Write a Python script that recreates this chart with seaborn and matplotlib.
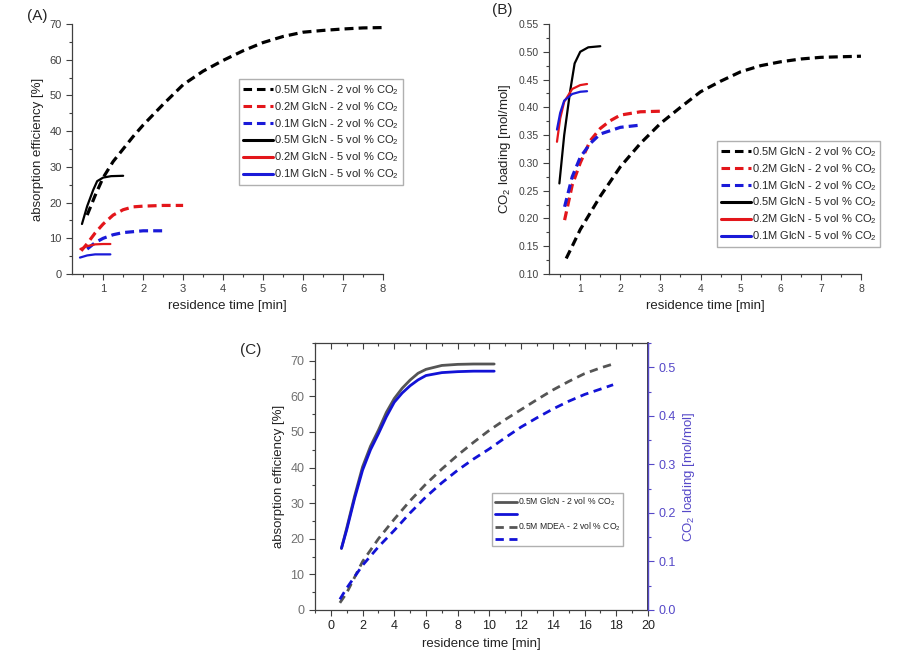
import numpy as np
import pandas as pd
import matplotlib.pyplot as plt
import seaborn as sns
from matplotlib.ticker import MultipleLocator, FormatStrFormatter
from matplotlib.lines import Line2D

# ---- panel A : absorption efficiency [%] vs residence time [min]
a_t_05_2 = [0.6, 0.8, 1.0, 1.25, 1.5, 1.75, 2.0, 2.5, 3.0, 3.5, 4.0, 4.5, 5.0, 5.5, 6.0, 6.5, 7.0, 7.5, 8.0]
a_y_05_2 = [16.5, 22, 27, 31.5, 35, 38.5, 41.7, 47.5, 53, 56.8, 59.8, 62.5, 64.8, 66.5, 67.7, 68.2, 68.6, 68.9, 69.0]
a_t_02_2 = [0.45, 0.6, 0.8, 1.0, 1.25, 1.5, 1.75, 2.0, 2.5, 3.0]
a_y_02_2 = [6.5, 8.5, 11.5, 14, 16.5, 18, 18.8, 19.0, 19.2, 19.2]
a_t_01_2 = [0.6, 0.8, 1.0, 1.25, 1.5, 2.0, 2.5]
a_y_01_2 = [7.0, 8.8, 10.0, 11.0, 11.6, 12.1, 12.1]
a_t_05_5 = [0.47, 0.6, 0.75, 0.85, 1.0, 1.2, 1.5]
a_y_05_5 = [14, 19, 23.5, 26, 27, 27.4, 27.5]
a_t_02_5 = [0.43, 0.6, 0.8, 1.0, 1.18]
a_y_02_5 = [7.0, 7.8, 8.3, 8.4, 8.4]
a_t_01_5 = [0.42, 0.6, 0.8, 1.0, 1.18]
a_y_01_5 = [4.6, 5.2, 5.5, 5.5, 5.5]

# ---- panel B : CO2 loading [mol/mol]
b_t_05_2 = [0.65, 0.8, 1.0, 1.25, 1.5, 2.0, 2.5, 3.0, 3.5, 4.0, 4.5, 5.0, 5.5, 6.0, 6.5, 7.0, 7.5, 8.0]
b_y_05_2 = [0.128, 0.15, 0.18, 0.21, 0.24, 0.293, 0.335, 0.371, 0.40, 0.428, 0.447, 0.464, 0.475, 0.482, 0.487, 0.490, 0.491, 0.492]
b_t_02_2 = [0.61, 0.8, 1.0, 1.25, 1.5, 1.75, 2.0, 2.5, 3.0]
b_y_02_2 = [0.197, 0.26, 0.30, 0.34, 0.362, 0.376, 0.386, 0.392, 0.393]
b_t_01_2 = [0.61, 0.8, 1.0, 1.25, 1.5, 2.0, 2.5]
b_y_01_2 = [0.221, 0.275, 0.31, 0.335, 0.352, 0.364, 0.368]
b_t_05_5 = [0.48, 0.6, 0.75, 0.86, 1.0, 1.2, 1.5]
b_y_05_5 = [0.263, 0.35, 0.43, 0.479, 0.500, 0.508, 0.510]
b_t_02_5 = [0.42, 0.5, 0.6, 0.8, 1.0, 1.17]
b_y_02_5 = [0.338, 0.38, 0.41, 0.433, 0.44, 0.442]
b_t_01_5 = [0.42, 0.5, 0.6, 0.8, 1.0, 1.17]
b_y_01_5 = [0.36, 0.39, 0.412, 0.424, 0.428, 0.429]

# ---- panel C : 0.5M GlcN vs 0.5M MDEA (2 vol % CO2)
c_t_glcn = [0.67, 1.0, 1.5, 2.0, 2.5, 3.0, 3.5, 4.0, 4.5, 5.0, 5.5, 6.0, 7.0, 8.0, 9.0, 10.3]
c_eff_glcn = [17.3, 23, 32, 40.2, 46, 50.5, 55.5, 59.4, 62.3, 64.6, 66.5, 67.6, 68.7, 69.0, 69.1, 69.1]
c_load_glcn = [0.127, 0.165, 0.23, 0.288, 0.33, 0.363, 0.398, 0.428, 0.447, 0.462, 0.474, 0.483, 0.489, 0.491, 0.492, 0.492]
c_t_mdea = [0.57, 1, 2, 3, 4, 5, 6, 7, 8, 9, 10, 11, 12, 13, 14, 15, 16, 17, 17.8]
c_eff_mdea = [2.0, 4.8, 13.6, 20, 25.5, 30.7, 35.4, 39.6, 43.5, 47.1, 50.5, 53.5, 56.3, 59.1, 61.8, 64.2, 66.4, 68.0, 69.1]
c_load_mdea = [0.022, 0.045, 0.092, 0.13, 0.164, 0.2, 0.233, 0.262, 0.288, 0.311, 0.332, 0.355, 0.377, 0.396, 0.414, 0.43, 0.444, 0.455, 0.464]

labels_ab = ["0.5M GlcN - 2 vol % CO$_2$", "0.2M GlcN - 2 vol % CO$_2$", "0.1M GlcN - 2 vol % CO$_2$",
             "0.5M GlcN - 5 vol % CO$_2$", "0.2M GlcN - 5 vol % CO$_2$", "0.1M GlcN - 5 vol % CO$_2$"]

sns.set_theme(style="ticks")
plt.rcParams['font.family'] = ['Liberation Sans', 'DejaVu Sans']
plt.rcParams['mathtext.fontset'] = 'custom'
plt.rcParams['mathtext.rm'] = 'Liberation Sans'
plt.rcParams['mathtext.default'] = 'regular'

BLACK, RED, BLUE = '#000000', '#e3161b', '#1a1ad8'
GRAY, CBLUE, AXBLUE = '#555555', '#1212d6', '#5548c8'
SPINE = '#404040'

fig = plt.figure(figsize=(9.02, 6.59), dpi=100)
axA = fig.add_axes([0.0798, 0.5842, 0.3448, 0.3794])
axB = fig.add_axes([0.6086, 0.5842, 0.3459, 0.3794])
axC = fig.add_axes([0.3492, 0.0744, 0.3692, 0.4051])


def draw_ab(ax, series, labelsize):
    colors = [BLACK, RED, BLUE, BLACK, RED, BLUE]
    for i, (t, y) in enumerate(series):
        dashed = i < 3
        sns.lineplot(x=t, y=y, ax=ax, color=colors[i], label=labels_ab[i],
                     lw=2.3 if dashed else 1.6, linestyle='--' if dashed else '-')
        if dashed:
            ax.get_lines()[-1].set_dashes((2.8, 1.6))
    for s in ['top', 'right']:
        ax.spines[s].set_visible(False)
    for s in ['left', 'bottom']:
        ax.spines[s].set_color(SPINE)
        ax.spines[s].set_linewidth(0.9)
    ax.tick_params(which='both', direction='out', colors=SPINE, labelsize=labelsize, width=0.8)
    ax.tick_params(which='major', length=4)
    ax.tick_params(which='minor', length=2)
    ax.set_xlim(0.22, 8)
    ax.xaxis.set_major_locator(MultipleLocator(1))
    ax.xaxis.set_minor_locator(MultipleLocator(0.5))
    ax.set_xlabel("residence time [min]", fontsize=9.5, color='#222222')


draw_ab(axA, [(a_t_05_2, a_y_05_2), (a_t_02_2, a_y_02_2), (a_t_01_2, a_y_01_2),
              (a_t_05_5, a_y_05_5), (a_t_02_5, a_y_02_5), (a_t_01_5, a_y_01_5)], 8)
axA.set_ylim(0, 70)
axA.yaxis.set_major_locator(MultipleLocator(10))
axA.yaxis.set_minor_locator(MultipleLocator(5))
axA.set_ylabel("absorption efficiency [%]", fontsize=9.5, color='#222222')

draw_ab(axB, [(b_t_05_2, b_y_05_2), (b_t_02_2, b_y_02_2), (b_t_01_2, b_y_01_2),
              (b_t_05_5, b_y_05_5), (b_t_02_5, b_y_02_5), (b_t_01_5, b_y_01_5)], 7.5)
axB.set_ylim(0.10, 0.55)
axB.yaxis.set_major_locator(MultipleLocator(0.05))
axB.yaxis.set_minor_locator(MultipleLocator(0.025))
axB.yaxis.set_major_formatter(FormatStrFormatter('%.2f'))
axB.set_ylabel("CO$_2$ loading [mol/mol]", fontsize=9.5, color='#222222')

leg_kw = dict(loc='upper left', borderaxespad=0, fontsize=8, handlelength=2.7,
              handletextpad=0.1, labelspacing=0.28, fancybox=False,
              edgecolor='#b0b0b0', framealpha=1, borderpad=0.35)
lgA = axA.legend(bbox_to_anchor=(0.537, 0.78), **leg_kw)
lgB = axB.legend(bbox_to_anchor=(0.538, 0.532), **leg_kw)
for lg in (lgA, lgB):
    for h in lg.get_lines():
        h.set_linewidth(2.2)

# ---- panel C
sns.lineplot(x=c_t_glcn, y=c_eff_glcn, ax=axC, color=GRAY, lw=2.0)
sns.lineplot(x=c_t_mdea, y=c_eff_mdea, ax=axC, color=GRAY, lw=2.0, linestyle='--')
axC.get_lines()[-1].set_dashes((3.0, 2.0))
axC2 = axC.twinx()
sns.lineplot(x=c_t_glcn, y=c_load_glcn, ax=axC2, color=CBLUE, lw=2.0)
sns.lineplot(x=c_t_mdea, y=c_load_mdea, ax=axC2, color=CBLUE, lw=2.0, linestyle='--')
axC2.get_lines()[-1].set_dashes((3.0, 2.0))

axC.set_xlim(-1, 20)
axC.set_ylim(0, 75)
axC.xaxis.set_major_locator(MultipleLocator(2))
axC.xaxis.set_minor_locator(MultipleLocator(1))
axC.yaxis.set_major_locator(MultipleLocator(10))
axC.yaxis.set_minor_locator(MultipleLocator(5))
axC2.set_ylim(0, 0.55)
axC2.yaxis.set_major_locator(MultipleLocator(0.1))
axC2.yaxis.set_minor_locator(MultipleLocator(0.05))
axC2.yaxis.set_major_formatter(FormatStrFormatter('%.1f'))

for s in ['left', 'bottom', 'top']:
    axC.spines[s].set_color(SPINE)
    axC.spines[s].set_linewidth(0.9)
axC2.spines['right'].set_color(AXBLUE)
axC2.spines['right'].set_linewidth(1.0)
for s in ['left', 'bottom', 'top']:
    axC2.spines[s].set_visible(False)

axC.tick_params(which='both', direction='out', labelsize=9, width=0.8, colors=SPINE)
axC.tick_params(which='major', length=4)
axC.tick_params(which='minor', length=2)
axC.tick_params(axis='y', labelcolor='#707070')
axC.tick_params(axis='x', labelcolor='#222222')
axC.xaxis.set_ticks_position('both')
# top ticks point inward
for tk in axC.xaxis.get_major_ticks() + axC.xaxis.get_minor_ticks():
    tk.tick2line.set_marker(3)
axC2.tick_params(which='both', direction='out', colors=AXBLUE, labelsize=9, width=0.8)
axC2.tick_params(which='major', length=4)
axC2.tick_params(which='minor', length=2)

axC.set_xlabel("residence time [min]", fontsize=9.5, color='#222222')
axC.set_ylabel("absorption efficiency [%]", fontsize=9.5, color='#222222')
axC2.set_ylabel("CO$_2$ loading [mol/mol]", fontsize=9.5, color=AXBLUE)

hC = [Line2D([], [], color=GRAY, lw=2), Line2D([], [], color=CBLUE, lw=2),
      Line2D([], [], color=GRAY, lw=2, ls=(0, (3, 2))), Line2D([], [], color=CBLUE, lw=2, ls=(0, (3, 2)))]
lC = ["0.5M GlcN - 2 vol % CO$_2$", " ", "0.5M MDEA - 2 vol % CO$_2$", " "]
axC2.legend(hC, lC, loc='upper left', bbox_to_anchor=(0.532, 0.438), borderaxespad=0,
            fontsize=6.2, handlelength=2.6, handletextpad=0.1, labelspacing=0.2,
            fancybox=False, edgecolor='#b0b0b0', framealpha=1, borderpad=0.3)

fig.text(0.030, 0.975, "(A)", fontsize=11, va='center', ha='left')
fig.text(0.546, 0.985, "(B)", fontsize=11, va='center', ha='left')
fig.text(0.266, 0.469, "(C)", fontsize=11, va='center', ha='left')

fig.savefig("out.png", dpi=100)
